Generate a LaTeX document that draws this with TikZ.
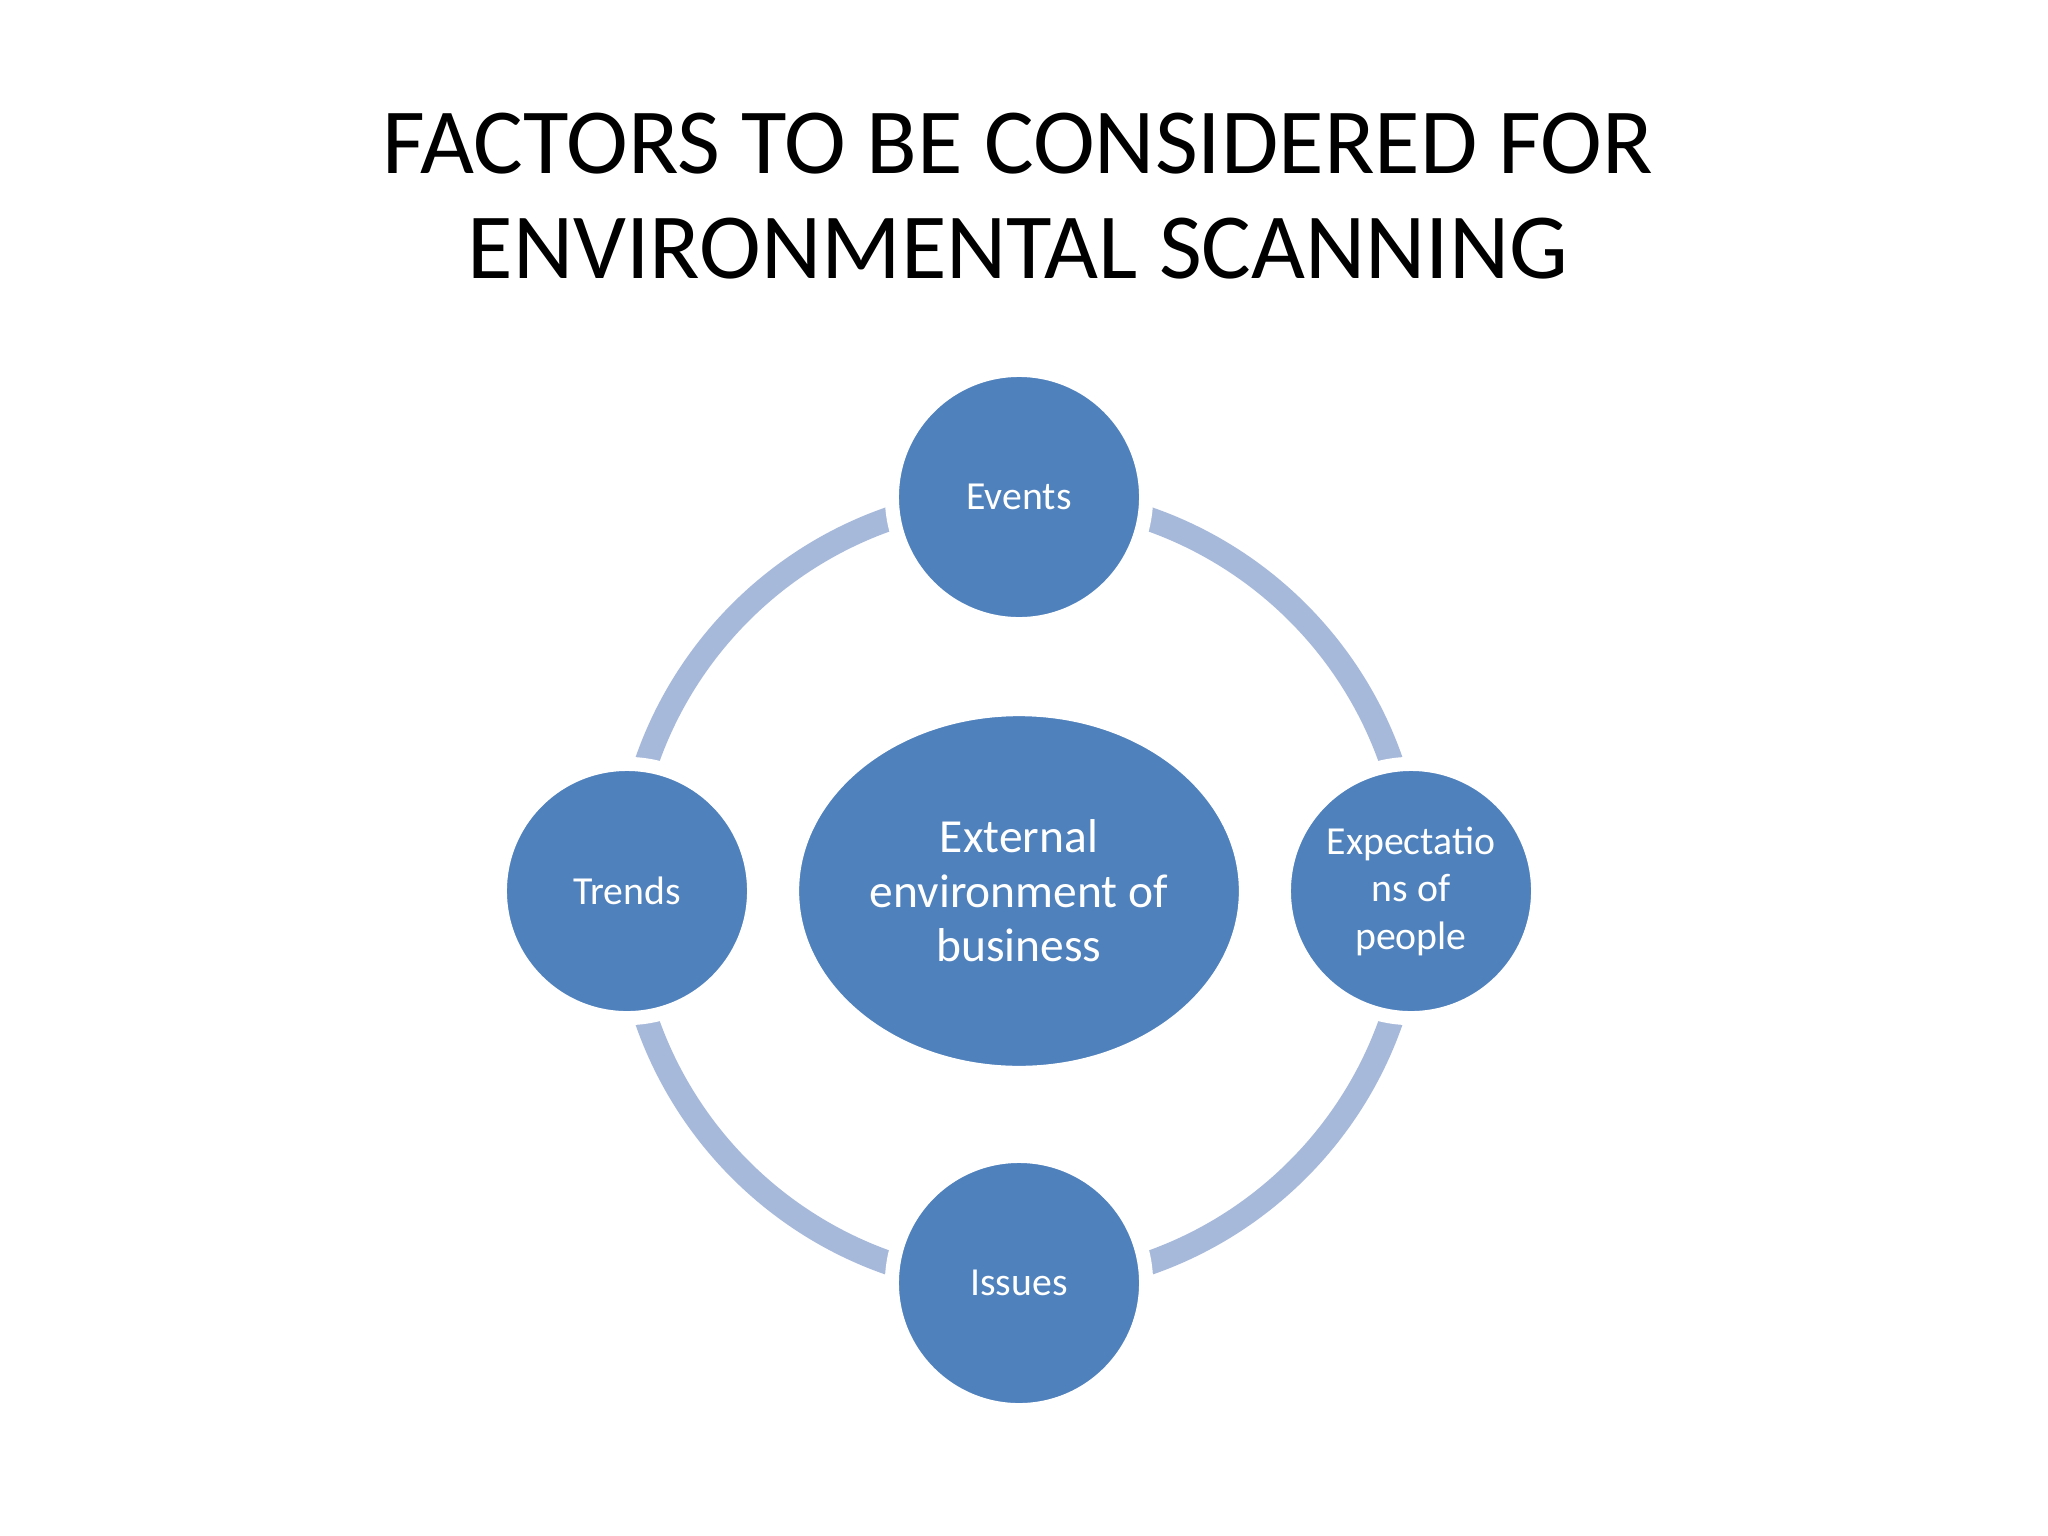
\documentclass[tikz,border=0pt]{standalone}
\usepackage{fontspec}
\usetikzlibrary{shapes.geometric}
\setmainfont{Carlito}
\definecolor{nodeblue}{HTML}{4F81BD}
\definecolor{ringblue}{HTML}{A7B9DB}
\begin{document}
\begin{tikzpicture}[x=0.01cm,y=-0.01cm,
  factor/.style={circle,fill=nodeblue,draw=white,line width=4pt,minimum size=2.54cm,inner sep=0pt,text=white,font=\fontsize{11.3}{13.5}\selectfont,align=center},
  hub/.style={ellipse,fill=nodeblue,draw=white,line width=3pt,minimum width=4.5cm,minimum height=3.6cm,inner sep=0pt,text=white,font=\fontsize{13.5}{15.5}\selectfont,align=center}]
\useasboundingbox (0,0) rectangle (2048,1536);
\fill[white] (0,0) rectangle (2048,1536);
\node[font=\fontsize{26.5}{32}\selectfont,align=center] (title) at (1018,196) {FACTORS TO BE CONSIDERED FOR\\[-2pt]ENVIRONMENTAL SCANNING};
\coordinate (c) at (1019,891);
\draw[ringblue,line width=0.24cm] (c) circle (394);
\node[factor] (events) at (1019,497) {Events};
\node[factor] (trends) at (627,891) {Trends};
\node[factor] (expect) at (1411,891) {Expectatio\\ns of\\people};
\node[factor] (issues) at (1019,1283) {Issues};
\node[hub] (hub) at (c) {External\\environment of\\business};
\end{tikzpicture}
\end{document}
